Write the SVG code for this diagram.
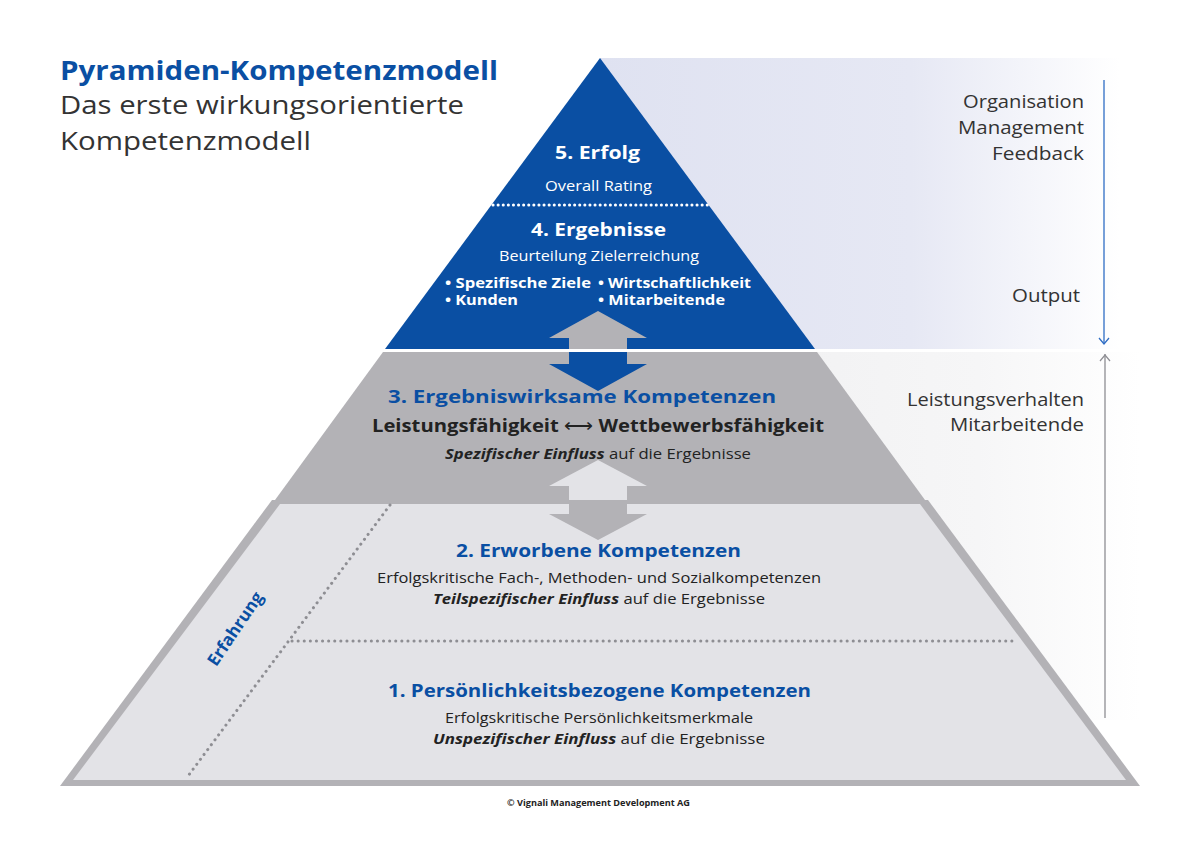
<svg xmlns="http://www.w3.org/2000/svg" width="1200" height="848" viewBox="0 0 1200 848">
<defs>
<linearGradient id="lav" x1="0" x2="1" y1="0" y2="0"><stop offset="0" stop-color="#dfe2f1"/><stop offset="0.6" stop-color="#e6e8f4"/><stop offset="1" stop-color="#ffffff"/></linearGradient>
<linearGradient id="gry" x1="0" x2="1" y1="0" y2="0"><stop offset="0" stop-color="#eeeeef"/><stop offset="0.7" stop-color="#f6f6f7"/><stop offset="1" stop-color="#ffffff"/></linearGradient>
</defs>
<style>
text{font-family:"Open Sans","Liberation Sans",sans-serif}
.w{fill:#fff}.b{fill:#0a4fa3}.k{fill:#222}.g{fill:#333}
.dot{stroke:#8e8e93;stroke-width:3;stroke-dasharray:0.1 6;stroke-linecap:round;fill:none}
</style>
<rect x="600" y="58" width="520" height="291" fill="url(#lav)"/>
<rect x="600" y="352" width="540" height="368" fill="url(#gry)"/>
<g id="title">
<text x="60" y="80" font-size="27" font-weight="bold" class="b" textLength="438" lengthAdjust="spacingAndGlyphs">Pyramiden-Kompetenzmodell</text>
<text x="60" y="114" font-size="25" class="g" textLength="404" lengthAdjust="spacingAndGlyphs">Das erste wirkungsorientierte</text>
<text x="60" y="150" font-size="25" class="g" textLength="251" lengthAdjust="spacingAndGlyphs">Kompetenzmodell</text>
</g>
<g id="level5-4">
<polygon points="600,58 815,349 385,349" fill="#0a4fa3"/>
<line x1="493" y1="205" x2="708" y2="205" stroke="#fff" stroke-width="3" stroke-dasharray="0.1 5" stroke-linecap="round"/>
<text x="555" y="159" font-size="17" font-weight="bold" class="w" textLength="85" lengthAdjust="spacingAndGlyphs">5. Erfolg</text>
<text x="545" y="191" font-size="14" class="w" textLength="107" lengthAdjust="spacingAndGlyphs">Overall Rating</text>
<text x="531" y="236" font-size="18" font-weight="bold" class="w" textLength="135" lengthAdjust="spacingAndGlyphs">4. Ergebnisse</text>
<text x="499" y="261" font-size="14" class="w" textLength="200" lengthAdjust="spacingAndGlyphs">Beurteilung Zielerreichung</text>
<text x="445" y="288" font-size="14" font-weight="bold" class="w" textLength="146" lengthAdjust="spacingAndGlyphs">• Spezifische Ziele</text>
<text x="598" y="288" font-size="14" font-weight="bold" class="w" textLength="153" lengthAdjust="spacingAndGlyphs">• Wirtschaftlichkeit</text>
<text x="445" y="305" font-size="14" font-weight="bold" class="w" textLength="73" lengthAdjust="spacingAndGlyphs">• Kunden</text>
<text x="598" y="305" font-size="14" font-weight="bold" class="w" textLength="127" lengthAdjust="spacingAndGlyphs">• Mitarbeitende</text>
</g>
<g id="level3">
<polygon points="383,352 817,352 925,500 275,500" fill="#b3b2b6"/>
<text x="388" y="403" font-size="18" font-weight="bold" class="b" textLength="388" lengthAdjust="spacingAndGlyphs">3. Ergebniswirksame Kompetenzen</text>
<text x="372" y="432" font-size="18" font-weight="bold" class="k" textLength="452" lengthAdjust="spacingAndGlyphs">Leistungsfähigkeit <tspan font-weight="normal">⟷</tspan> Wettbewerbsfähigkeit</text>
<text x="445" y="459" font-size="14" class="k" textLength="306" lengthAdjust="spacingAndGlyphs"><tspan font-weight="bold" font-style="italic">Spezifischer Einfluss</tspan> auf die Ergebnisse</text>
</g>
<g id="level1-2">
<polygon points="272,500 928,500 1140,786 60,786" fill="#b3b2b6"/>
<polygon points="280,504 920,504 1126,780 73,780" fill="#e3e3e7"/>
<line class="dot" x1="390" y1="505" x2="188" y2="776"/>
<line class="dot" x1="292" y1="641" x2="1015" y2="641"/>
<text transform="translate(240,632) rotate(-56)" font-size="17" font-weight="bold" class="b" text-anchor="middle">Erfahrung</text>
<text x="456" y="557" font-size="18" font-weight="bold" class="b" textLength="285" lengthAdjust="spacingAndGlyphs">2. Erworbene Kompetenzen</text>
<text x="377" y="583" font-size="14" class="k" textLength="444" lengthAdjust="spacingAndGlyphs">Erfolgskritische Fach-, Methoden- und Sozialkompetenzen</text>
<text x="433" y="604" font-size="14" class="k" textLength="332" lengthAdjust="spacingAndGlyphs"><tspan font-weight="bold" font-style="italic">Teilspezifischer Einfluss</tspan> auf die Ergebnisse</text>
<text x="388" y="697" font-size="18" font-weight="bold" class="b" textLength="423" lengthAdjust="spacingAndGlyphs">1. Persönlichkeitsbezogene Kompetenzen</text>
<text x="445" y="723" font-size="14" class="k" textLength="308" lengthAdjust="spacingAndGlyphs">Erfolgskritische Persönlichkeitsmerkmale</text>
<text x="433" y="744" font-size="14" class="k" textLength="332" lengthAdjust="spacingAndGlyphs"><tspan font-weight="bold" font-style="italic">Unspezifischer Einfluss</tspan> auf die Ergebnisse</text>
</g>
<g id="connectors">
<polygon points="598,311 647,338 627,338 627,349 569,349 569,338 549,338" fill="#b3b2b6"/>
<polygon points="569,352 627,352 627,364 647,364 598,391 549,364 569,364" fill="#0a4fa3"/>
<polygon points="598,460 647,486 627,486 627,500 569,500 569,486 549,486" fill="#e3e3e7"/>
<polygon points="569,504 627,504 627,514 647,514 598,540 549,514 569,514" fill="#b3b2b6"/>
<line x1="1104" y1="80" x2="1104" y2="344" stroke="#2f6dc4" stroke-width="1.3"/>
<path d="M1099,338 L1104,344 L1109,338" fill="none" stroke="#2f6dc4" stroke-width="1.3"/>
<line x1="1105" y1="718" x2="1105" y2="354" stroke="#8e8e93" stroke-width="1.3"/>
<path d="M1100,361 L1105,355 L1110,361" fill="none" stroke="#8e8e93" stroke-width="1.2"/>
</g>
<g id="side-labels">
<text x="963" y="108" font-size="18" class="g" textLength="121" lengthAdjust="spacingAndGlyphs">Organisation</text>
<text x="958" y="134" font-size="18" class="g" textLength="126" lengthAdjust="spacingAndGlyphs">Management</text>
<text x="992" y="160" font-size="18" class="g" textLength="92" lengthAdjust="spacingAndGlyphs">Feedback</text>
<text x="1012" y="302" font-size="18" class="g" textLength="68" lengthAdjust="spacingAndGlyphs">Output</text>
<text x="907" y="406" font-size="18" class="g" textLength="177" lengthAdjust="spacingAndGlyphs">Leistungsverhalten</text>
<text x="950" y="431" font-size="18" class="g" textLength="134" lengthAdjust="spacingAndGlyphs">Mitarbeitende</text>
</g>
<text x="507" y="806" font-size="9" font-weight="bold" class="k" textLength="183" lengthAdjust="spacingAndGlyphs">© Vignali Management Development AG</text>
</svg>
